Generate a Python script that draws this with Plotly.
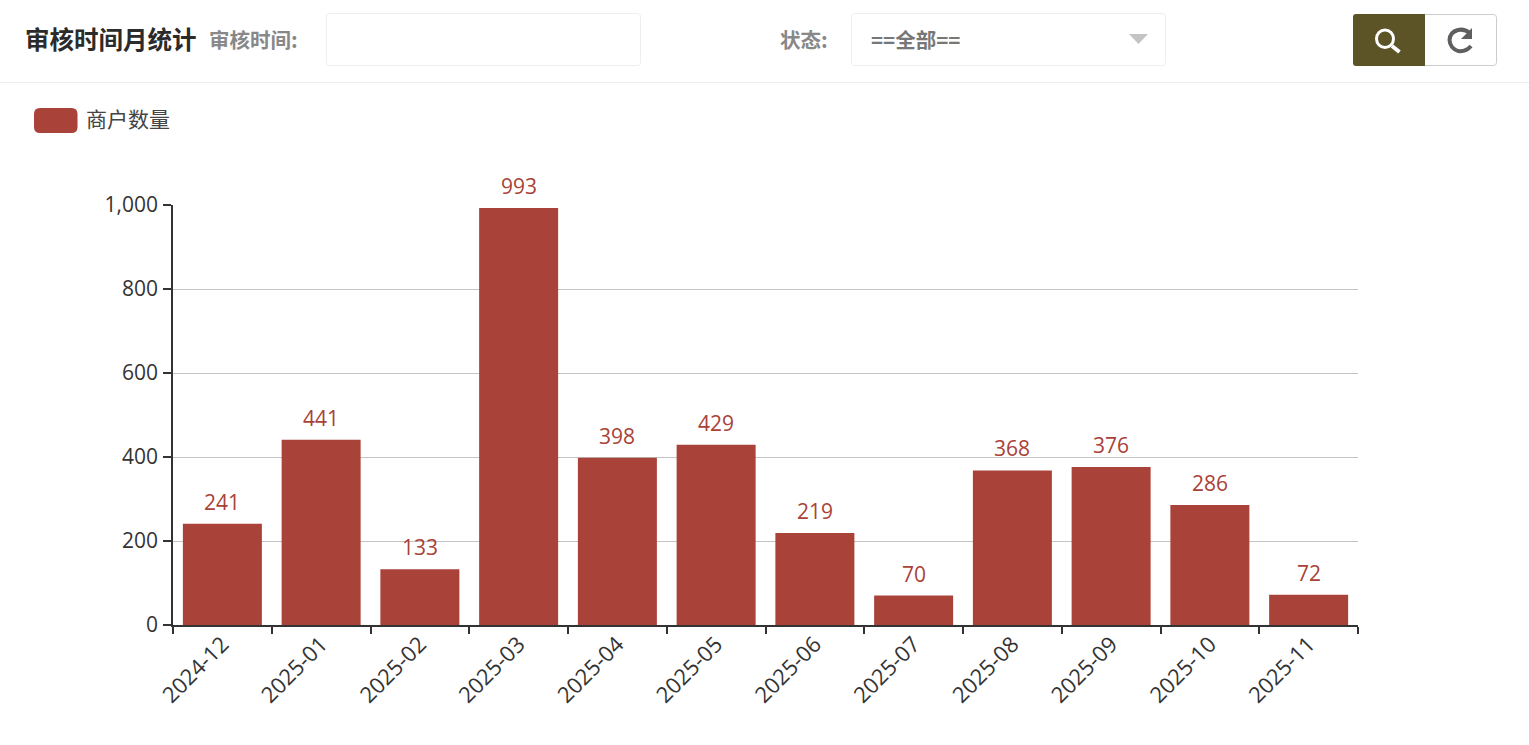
import plotly.graph_objects as go

months = ["2024-12", "2025-01", "2025-02", "2025-03", "2025-04", "2025-05",
          "2025-06", "2025-07", "2025-08", "2025-09", "2025-10", "2025-11"]
merchant_counts = [241, 441, 133, 993, 398, 429, 219, 70, 368, 376, 286, 72]
series_name = "商户数量"
page_title = "审核时间月统计"
filter_time_label = "审核时间:"
filter_status_label = "状态:"
status_value = "==全部=="

W, H = 1529, 745
L, R, T, B = 173, 1358, 205, 625
BAR = "#a94238"
CJK = "Noto Sans CJK SC"
LATIN = "Open Sans, Noto Sans CJK SC"
TICK_SIZE = 21


def px(x):
    return (x - L) / (R - L)


def py(y):
    return (B - y) / (B - T)


def rrect(x0, y0, x1, y1, r, fill, line=None, lw=1):
    p = (f"M{px(x0+r)},{py(y0)} L{px(x1-r)},{py(y0)} Q{px(x1)},{py(y0)} {px(x1)},{py(y0+r)} "
         f"L{px(x1)},{py(y1-r)} Q{px(x1)},{py(y1)} {px(x1-r)},{py(y1)} "
         f"L{px(x0+r)},{py(y1)} Q{px(x0)},{py(y1)} {px(x0)},{py(y1-r)} "
         f"L{px(x0)},{py(y0+r)} Q{px(x0)},{py(y0)} {px(x0+r)},{py(y0)} Z")
    return dict(type="path", xref="paper", yref="paper", path=p, fillcolor=fill,
                line=dict(color=line or fill, width=lw if line else 0), layer="above")


def label(x, y, text, size, color, bold=False, anchor="left", font=CJK):
    t = f"<b>{text}</b>" if bold else text
    return dict(xref="paper", yref="paper", x=px(x), y=py(y), text=t, showarrow=False,
                xanchor=anchor, yanchor="middle", xshift=0, yshift=0,
                font=dict(family=font, size=size, color=color))


shapes = [
    dict(type="line", xref="paper", yref="paper", x0=px(0), x1=px(W), y0=py(82.5), y1=py(82.5),
         line=dict(color="#eeeeee", width=1)),
    rrect(326.5, 13.5, 640.5, 65.5, 3, "#ffffff", "#eeeeee"),
    rrect(851.5, 13.5, 1165.5, 65.5, 3, "#ffffff", "#eeeeee"),
    dict(type="path", xref="paper", yref="paper",
         path=f"M{px(1129)},{py(34)} L{px(1148)},{py(34)} L{px(1138.5)},{py(44)} Z",
         fillcolor="#c4c4c4", line=dict(width=0)),
    rrect(1353.5, 14.5, 1496.5, 65.5, 3, "#ffffff", "#cccccc"),
    # search button
    dict(type="path", xref="paper", yref="paper",
         path=(f"M{px(1356)},{py(14)} L{px(1425)},{py(14)} L{px(1425)},{py(66)} L{px(1356)},{py(66)} "
               f"Q{px(1353)},{py(66)} {px(1353)},{py(63)} L{px(1353)},{py(17)} Q{px(1353)},{py(14)} {px(1356)},{py(14)} Z"),
         fillcolor="#5c5327", line=dict(width=0)),
    dict(type="circle", xref="paper", yref="paper", x0=px(1376.5), x1=px(1393.5), y0=py(30), y1=py(47.5),
         fillcolor="rgba(0,0,0,0)", line=dict(color="#ffffff", width=3)),
    dict(type="line", xref="paper", yref="paper", x0=px(1392), x1=px(1399.5), y0=py(46), y1=py(52),
         line=dict(color="#ffffff", width=4)),
    # refresh icon
    dict(type="path", xref="paper", yref="paper",
         path=(f"M{px(1470)},{py(33)} Q{px(1464)},{py(28.5)} {px(1458)},{py(30)} "
               f"Q{px(1450)},{py(32)} {px(1449.5)},{py(40)} Q{px(1450)},{py(48)} {px(1458)},{py(51)} "
               f"Q{px(1466)},{py(52)} {px(1471)},{py(46)}"),
         fillcolor="rgba(0,0,0,0)", line=dict(color="#5f5f5f", width=4)),
    dict(type="path", xref="paper", yref="paper",
         path=f"M{px(1472)},{py(28)} L{px(1472)},{py(39)} L{px(1461)},{py(39)} Z",
         fillcolor="#5f5f5f", line=dict(width=0)),
    # legend swatch
    rrect(34, 108, 77.5, 133, 6, BAR),
]

annotations = [
    label(23, 38, page_title, 24.5, "#2b2b2b", bold=True),
    label(207, 39, filter_time_label, 20.5, "#888888", bold=True),
    label(778, 39, filter_status_label, 20.5, "#888888", bold=True),
    label(869, 39, status_value, 20.5, "#777777", bold=True),
    label(84, 117.5, series_name, 21, "#444444"),
]

for month, count in zip(months, merchant_counts):
    annotations.append(dict(x=month, y=count, xref="x", yref="y", text=str(count), showarrow=False,
                            xanchor="center", yanchor="middle", yshift=22,
                            font=dict(family=LATIN, size=TICK_SIZE, color=BAR)))

fig = go.Figure(go.Bar(x=months, y=merchant_counts, name=series_name,
                       marker=dict(color=BAR, line=dict(width=0)), hoverinfo="x+y"))

fig.update_layout(
    width=W, height=H, autosize=False,
    margin=dict(l=L, r=W - R, t=T, b=H - B, pad=0),
    paper_bgcolor="#ffffff", plot_bgcolor="#ffffff",
    showlegend=False, bargap=0.2,
    font=dict(family=LATIN, color="#333333", size=TICK_SIZE),
    shapes=shapes, annotations=annotations,
    xaxis=dict(type="category", tickson="boundaries", ticks="outside", ticklen=7, tickwidth=1.5,
               tickcolor="#333333", showline=True, linecolor="#333333", linewidth=1.5,
               showgrid=False, tickangle=-45, ticklabelstandoff=-4,
               tickfont=dict(family=LATIN, size=22, color="#333333")),
    yaxis=dict(range=[0, 1000], tickvals=[0, 200, 400, 600, 800, 1000], tickformat=",",
               ticks="outside", ticklen=8, tickwidth=1.5, tickcolor="#333333",
               showline=True, linecolor="#333333", linewidth=1.5,
               showgrid=True, gridcolor="#c4c4c4", gridwidth=1.3, zeroline=False,
               ticklabelstandoff=1,
               tickfont=dict(family=LATIN, size=TICK_SIZE, color="#333333")),
)

fig.write_html("out.html", config={"displayModeBar": False, "responsive": False},
               post_script="document.body.style.margin='0';document.documentElement.style.overflow='hidden';")
